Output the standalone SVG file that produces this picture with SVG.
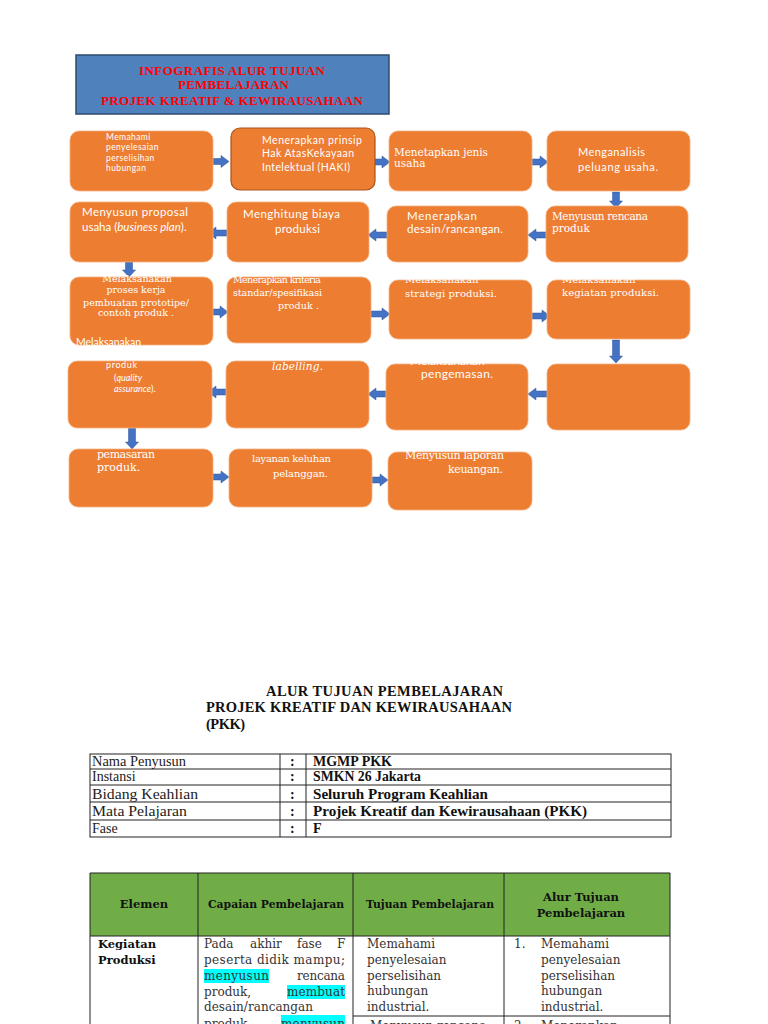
<svg xmlns="http://www.w3.org/2000/svg" width="768" height="1024" viewBox="0 0 768 1024">
<style>
.bg{fill:#ffffff}
.box{fill:#ED7D31;stroke:#F4B183;stroke-width:0.8}
.boxd{fill:#ED7D31;stroke:#A9541C;stroke-width:1.2}
.arr{fill:#4472C4;stroke:#2F5597;stroke-width:0.5}
.ts{font-family:Lato,"Liberation Sans",sans-serif;fill:#ffffff}
.tr{font-family:"DejaVu Serif","Liberation Serif",serif;fill:#ffffff}
.ttl{font-family:"Liberation Serif",serif;font-weight:bold;font-size:13px;fill:#FF0000;text-anchor:middle}
.hd{font-family:"Liberation Serif",serif;font-weight:bold;font-size:14.5px;fill:#111}
.il{font-family:"Liberation Serif",serif;font-size:14px;fill:#222}
.iv{font-family:"Liberation Serif",serif;font-weight:bold;font-size:14px;fill:#111}
.grid{fill:none;stroke:#222;stroke-width:1}
.th{font-family:"DejaVu Serif","Liberation Serif",serif;font-weight:bold;font-size:11.5px;fill:#111;text-anchor:middle}
.tb{font-family:"DejaVu Serif","Liberation Serif",serif;font-size:12px;fill:#333}
.tbb{font-family:"DejaVu Serif","Liberation Serif",serif;font-weight:bold;font-size:11.5px;fill:#111}
.hl{fill:#00FFFF}
</style>
<rect class="bg" x="0" y="0" width="768" height="1024"/>

<g id="title">
<rect x="76" y="55" width="313" height="59" fill="#4F81BD" stroke="#2F4A6D" stroke-width="1.5"/>
<text class="ttl" x="232" y="75" textLength="186">INFOGRAFIS ALUR TUJUAN</text>
<text class="ttl" x="233.5" y="89" textLength="111">PEMBELAJARAN</text>
<text class="ttl" x="232" y="105" textLength="262">PROJEK KREATIF &amp; KEWIRAUSAHAAN</text>
</g>

<g id="connectors">
<path class="arr" d="M210,158.5 H221 V155.5 L229,161.5 L221,167.5 V164.5 H210 Z"/>
<path class="arr" d="M372,159 H382 V156 L390,162 L382,168 V165 H372 Z"/>
<path class="arr" d="M530,159 H540 V156 L548,162 L540,168 V165 H530 Z"/>
<path class="arr" d="M612.5,192 V201 H609.5 L616,208 L622.5,201 H619.5 V192 Z"/>
<path class="arr" d="M547,232 H536 V229 L528,235 L536,241 V238 H547 Z"/>
<path class="arr" d="M388,232 H376 V229 L368,235 L376,241 V238 H388 Z"/>
<path class="arr" d="M227,230 H216 V227 L208,233 L216,239 V236 H227 Z"/>
<path class="arr" d="M125.5,262 V270 H122.5 L129,277 L135.5,270 H132.5 V262 Z"/>
<path class="arr" d="M212,309 H220 V306 L228,312 L220,318 V315 H212 Z"/>
<path class="arr" d="M371,311 H382 V308 L390,314 L382,320 V317 H371 Z"/>
<path class="arr" d="M532,313 H542 V310 L550,316 L542,322 V319 H532 Z"/>
<path class="arr" d="M612.5,340 V356 H609.5 L616,363 L622.5,356 H619.5 V340 Z"/>
<path class="arr" d="M547,391 H536 V388 L528,394 L536,400 V397 H547 Z"/>
<path class="arr" d="M388,391 H376 V388 L368,394 L376,400 V397 H388 Z"/>
<path class="arr" d="M227,389 H216 V386 L208,392 L216,398 V395 H227 Z"/>
<path class="arr" d="M128.5,427 V442 H125.5 L132,449 L138.5,442 H135.5 V427 Z"/>
<path class="arr" d="M210,474 H221 V471 L229,477 L221,483 V480 H210 Z"/>
<path class="arr" d="M370,477 H380 V474 L388,480 L380,486 V483 H370 Z"/>
</g>

<g id="n1">
<rect class="box" x="70" y="131" width="143" height="60" rx="9"/>
<text class="ts" font-size="8.5" letter-spacing="0.4"><tspan x="106" y="139.5">Memahami</tspan><tspan x="106" y="150">penyelesaian</tspan><tspan x="106" y="161">perselisihan</tspan><tspan x="106" y="171">hubungan</tspan></text>
</g>
<g id="n2">
<rect class="boxd" x="231" y="128" width="144" height="62" rx="9"/>
<text class="ts" font-size="10.5"><tspan x="262" y="144" textLength="100">Menerapkan prinsip</tspan><tspan x="262" y="157" textLength="92">Hak AtasKekayaan</tspan><tspan x="262" y="171" textLength="88">Intelektual (HAKI)</tspan></text>
</g>
<g id="n3">
<rect class="box" x="389" y="131" width="143" height="60" rx="9"/>
<text class="tr" font-size="10.5"><tspan x="394" y="156" textLength="94">Menetapkan jenis</tspan><tspan x="394" y="167">usaha</tspan></text>
</g>
<g id="n4">
<rect class="box" x="547" y="131" width="143" height="60" rx="9"/>
<text class="ts" font-size="11"><tspan x="578" y="156" textLength="67">Menganalisis</tspan><tspan x="578" y="171" textLength="80">peluang usaha.</tspan></text>
</g>

<g id="n5">
<rect class="box" x="546" y="206" width="142" height="56" rx="9"/>
<text class="tr" font-size="10.5"><tspan x="552" y="220" textLength="96">Menyusun rencana</tspan><tspan x="552" y="232">produk</tspan></text>
</g>
<g id="n6">
<rect class="box" x="387" y="206" width="141" height="56" rx="9"/>
<text class="ts" font-size="11.5"><tspan x="407" y="220" textLength="70">Menerapkan</tspan><tspan x="407" y="233" textLength="96">desain/rancangan.</tspan></text>
</g>
<g id="n7">
<rect class="box" x="227" y="202" width="142" height="60" rx="9"/>
<text class="ts" font-size="11.5"><tspan x="243" y="218" textLength="97">Menghitung biaya</tspan><tspan x="275" y="233" textLength="45">produksi</tspan></text>
</g>
<g id="n8">
<rect class="box" x="70" y="202" width="143" height="60" rx="9"/>
<text class="ts" font-size="11.5"><tspan x="82" y="216" textLength="106">Menyusun proposal</tspan><tspan x="82" y="231">usaha (<tspan font-style="italic">business plan</tspan>).</tspan></text>
</g>

<g id="n9">
<rect class="box" x="70" y="277" width="143" height="68" rx="9"/>
<text class="tr" font-size="9.5" text-anchor="middle"><tspan x="137" y="282">Melaksanakan</tspan><tspan x="136" y="293" textLength="59">proses kerja</tspan><tspan x="136" y="306" textLength="106">pembuatan prototipe/</tspan><tspan x="136" y="316" textLength="76">contoh produk .</tspan></text>
<text class="ts" font-size="10.5" x="76" y="345.5" textLength="65">Melaksanakan</text>
</g>
<g id="n10">
<rect class="box" x="227" y="277" width="144" height="66" rx="9"/>
<text class="tr" font-size="9.5"><tspan x="233" y="283" textLength="88">Menerapkan kriteria</tspan><tspan x="233" y="296" textLength="89">standar/spesifikasi</tspan><tspan x="278" y="309" textLength="41">produk .</tspan></text>
</g>
<g id="n11">
<rect class="box" x="389" y="280" width="143" height="59" rx="9"/>
<text class="tr" font-size="10"><tspan x="405" y="283">Melaksanakan</tspan><tspan x="405" y="297" textLength="92">strategi produksi.</tspan></text>
</g>
<g id="n12">
<rect class="box" x="547" y="280" width="143" height="59" rx="9"/>
<text class="tr" font-size="10"><tspan x="562" y="283">Melaksanakan</tspan><tspan x="562" y="296" textLength="97">kegiatan produksi.</tspan></text>
</g>

<g id="n13">
<rect class="box" x="547" y="364" width="143" height="66" rx="9"/>
</g>
<g id="n14">
<rect class="box" x="386" y="364" width="142" height="66" rx="9"/>
<text class="ts" font-size="12"><tspan x="410" y="365">Melaksanakan</tspan><tspan x="421" y="378" textLength="72">pengemasan.</tspan></text>
</g>
<g id="n15">
<rect class="box" x="226" y="361" width="143" height="67" rx="9"/>
<text class="tr" font-size="10.5" font-style="italic" x="272" y="370" textLength="51">labelling.</text>
</g>
<g id="n16">
<rect class="box" x="68" y="361" width="144" height="67" rx="9"/>
<text class="ts" font-size="9"><tspan x="106" y="368" textLength="31">produk</tspan><tspan x="114" y="381">(<tspan font-style="italic">quality</tspan></tspan><tspan x="114" y="392"><tspan font-style="italic">assurance</tspan>).</tspan></text>
</g>

<g id="n17">
<rect class="box" x="69" y="449" width="144" height="58" rx="9"/>
<text class="tr" font-size="11"><tspan x="97" y="458" textLength="58">pemasaran</tspan><tspan x="97" y="471">produk.</tspan></text>
</g>
<g id="n18">
<rect class="box" x="229" y="449" width="143" height="58" rx="9"/>
<text class="tr" font-size="10"><tspan x="252" y="462" textLength="79">layanan keluhan</tspan><tspan x="273" y="477" textLength="55">pelanggan.</tspan></text>
</g>
<g id="n19">
<rect class="box" x="388" y="452" width="144" height="58" rx="9"/>
<text class="tr" font-size="11"><tspan x="405" y="459" textLength="99">Menyusun laporan</tspan><tspan x="448" y="473" textLength="55">keuangan.</tspan></text>
</g>

<g id="heading">
<text class="hd" x="266" y="696" textLength="237">ALUR TUJUAN PEMBELAJARAN</text>
<text class="hd" x="206" y="712" textLength="306">PROJEK KREATIF DAN KEWIRAUSAHAAN</text>
<text class="hd" x="206" y="729" textLength="39">(PKK)</text>
</g>

<g id="info-table">
<rect class="grid" x="90" y="754" width="581" height="83"/>
<line class="grid" x1="90" y1="769" x2="671" y2="769"/>
<line class="grid" x1="90" y1="785" x2="671" y2="785"/>
<line class="grid" x1="90" y1="802" x2="671" y2="802"/>
<line class="grid" x1="90" y1="820" x2="671" y2="820"/>
<line class="grid" x1="280" y1="754" x2="280" y2="837"/>
<line class="grid" x1="306" y1="754" x2="306" y2="837"/>
<text class="il" x="92" y="766" textLength="94" lengthAdjust="spacingAndGlyphs">Nama Penyusun</text>
<text class="il" x="92" y="781">Instansi</text>
<text class="il" font-size="16" x="92" y="799" textLength="106" lengthAdjust="spacingAndGlyphs">Bidang Keahlian</text>
<text class="il" font-size="16" x="92" y="816" textLength="95" lengthAdjust="spacingAndGlyphs">Mata Pelajaran</text>
<text class="il" font-size="15" x="92" y="833">Fase</text>
<text class="iv" x="290" y="766">:</text>
<text class="iv" x="290" y="781">:</text>
<text class="iv" x="290" y="799">:</text>
<text class="iv" x="290" y="816">:</text>
<text class="iv" x="290" y="833">:</text>
<text class="iv" x="313" y="766" textLength="79" lengthAdjust="spacingAndGlyphs">MGMP PKK</text>
<text class="iv" x="313" y="781" textLength="108" lengthAdjust="spacingAndGlyphs">SMKN 26 Jakarta</text>
<text class="iv" font-size="16" x="313" y="799" textLength="175" lengthAdjust="spacingAndGlyphs">Seluruh Program Keahlian</text>
<text class="iv" font-size="16" x="313" y="816" textLength="274" lengthAdjust="spacingAndGlyphs">Projek Kreatif dan Kewirausahaan (PKK)</text>
<text class="iv" font-size="15" x="313" y="833">F</text>
</g>

<g id="main-table">
<rect x="90" y="873" width="580" height="63" fill="#70AD47"/>
<rect class="hl" x="204" y="969" width="65" height="14"/>
<rect class="hl" x="287" y="985" width="58" height="14"/>
<rect class="hl" x="281" y="1015" width="64" height="12"/>
<line class="grid" stroke-width="1.3" x1="90" y1="873" x2="670" y2="873"/>
<line class="grid" stroke-width="1.3" x1="90" y1="936" x2="670" y2="936"/>
<line class="grid" stroke-width="1.3" x1="90" y1="873" x2="90" y2="1024"/>
<line class="grid" stroke-width="1.3" x1="198" y1="873" x2="198" y2="1024"/>
<line class="grid" stroke-width="1.3" x1="353" y1="873" x2="353" y2="1024"/>
<line class="grid" stroke-width="1.3" x1="504" y1="873" x2="504" y2="1024"/>
<line class="grid" stroke-width="1.3" x1="670" y1="873" x2="670" y2="1024"/>
<line class="grid" x1="353" y1="1016" x2="670" y2="1016"/>
<text class="th" x="144" y="908">Elemen</text>
<text class="th" x="276" y="908" textLength="136" lengthAdjust="spacingAndGlyphs">Capaian Pembelajaran</text>
<text class="th" x="430" y="908" textLength="128" lengthAdjust="spacingAndGlyphs">Tujuan Pembelajaran</text>
<text class="th" x="581" y="901">Alur Tujuan</text>
<text class="th" x="581" y="917">Pembelajaran</text>
<text class="tbb" x="98" y="948">Kegiatan</text>
<text class="tbb" x="98" y="964">Produksi</text>
<text class="tb" x="204" y="948">Pada</text>
<text class="tb" x="250" y="948">akhir</text>
<text class="tb" x="297" y="948">fase</text>
<text class="tb" x="337" y="948">F</text>
<text class="tb" x="204" y="964" textLength="141">peserta didik mampu;</text>
<text class="tb" x="204" y="980" textLength="65">menyusun</text>
<text class="tb" x="297" y="980" textLength="48">rencana</text>
<text class="tb" x="204" y="996">produk,</text>
<text class="tb" x="287" y="996" textLength="58">membuat</text>
<text class="tb" x="204" y="1011" textLength="109">desain/rancangan</text>
<text class="tb" x="204" y="1028">produk,</text>
<text class="tb" x="281" y="1028" textLength="64">menyusun</text>
<text class="tb"><tspan x="367" y="948">Memahami</tspan><tspan x="367" y="964">penyelesaian</tspan><tspan x="367" y="980">perselisihan</tspan><tspan x="367" y="995">hubungan</tspan><tspan x="367" y="1011">industrial.</tspan><tspan x="370" y="1030">Menyusun rencana</tspan></text>
<text class="tb"><tspan x="514" y="948">1.</tspan><tspan x="541" y="948">Memahami</tspan><tspan x="541" y="964">penyelesaian</tspan><tspan x="541" y="980">perselisihan</tspan><tspan x="541" y="995">hubungan</tspan><tspan x="541" y="1011">industrial.</tspan><tspan x="514" y="1030">2.</tspan><tspan x="541" y="1030">Menerapkan</tspan></text>
</g>
</svg>
